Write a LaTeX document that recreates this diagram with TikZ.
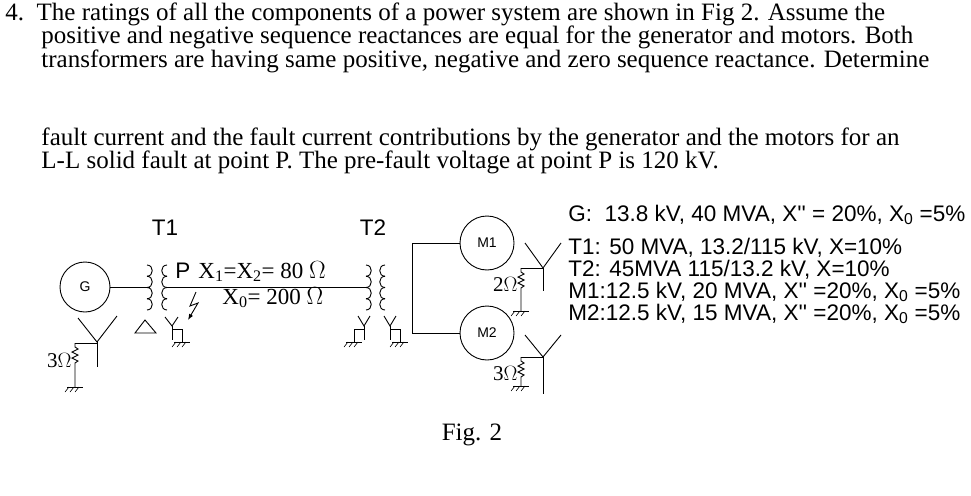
\documentclass[tikz,border=0pt]{standalone}
\usepackage{fontspec}
\usetikzlibrary{arrows.meta}
\setmainfont{Liberation Serif}
\newfontfamily\sans{Liberation Sans}
\begin{document}
\begin{tikzpicture}[x=1pt,y=-1pt,line width=0.9pt,
  txt/.style={anchor=base west,inner sep=0,font=\fontsize{25}{27}\selectfont},
  lab/.style={anchor=base west,inner sep=0,font=\sans\fontsize{22.5}{24}\selectfont},
  mach/.style={circle,draw,minimum size=#1,inner sep=0,font=\sans\fontsize{14}{14}\selectfont}]
\useasboundingbox (0,0) rectangle (971,495);
\newcommand\gnd[2]{\draw (#1-8,#2) -- (#1+8,#2);
  \foreach \k in {-6,-1,4}{\draw[line width=0.6pt] (#1+\k,#2) -- (#1+\k-4,#2+5);}}
\newcommand\coilR[3]{\foreach \i in {0,...,3}{\draw (#1,#2+\i*#3/4) .. controls (#1+7,#2+\i*#3/4) and (#1+7,#2+\i*#3/4+#3/4) .. (#1,#2+\i*#3/4+#3/4);}}
\newcommand\coilL[3]{\foreach \i in {0,...,3}{\draw (#1,#2+\i*#3/4) .. controls (#1-7,#2+\i*#3/4) and (#1-7,#2+\i*#3/4+#3/4) .. (#1,#2+\i*#3/4+#3/4);}}
\newcommand\resV[3]{\draw (#1,#2) -- (#1,#2+4) -- (#1+3,#2+6) -- (#1-3,#2+9) -- (#1+3,#2+12) -- (#1-3,#2+15) -- (#1+3,#2+18) -- (#1,#2+20) -- (#1,#3);}
% text
\node[txt] (l1) at (5,21) {4.\ \ The ratings of all the components of a power system are shown in Fig 2. Assume the};
\node[txt] (l2) at (41,44) {positive and negative sequence reactances are equal for the generator and motors. Both};
\node[txt] (l3) at (41,67) {transformers are having same positive, negative and zero sequence reactance. Determine};
\node[txt] (l4) at (41,145) {fault current and the fault current contributions by the generator and the motors for an};
\node[txt] (l5) at (41,168) {L-L solid fault at point P. The pre-fault voltage at point P is 120 kV.};
\node[lab] (r1) at (568,221) {G:\ \ 13.8 kV, 40 MVA, X'' = 20\%, X\textsubscript{0} =5\%};
\node[lab] (r2) at (568,254) {T1: 50 MVA, 13.2/115 kV, X=10\%};
\node[lab] (r3) at (568,276) {T2: 45MVA 115/13.2 kV, X=10\%};
\node[lab] (r4) at (568,298) {M1:12.5 kV, 20 MVA, X'' =20\%, X\textsubscript{0} =5\%};
\node[lab] (r5) at (568,320) {M2:12.5 kV, 15 MVA, X'' =20\%, X\textsubscript{0} =5\%};
% generator
\node[mach=50pt] (G) at (85,287) {G};
\coordinate (t1a) at (150,287);
\coordinate (t1b) at (167,287);
\coordinate (t2a) at (368,287);
\draw (G.east) -- (t1a);
\draw (t1b) -- (t2a);
\coilR{147}{265}{45}\coilL{167}{265}{45}
\coilR{366}{265}{45}\coilL{385}{265}{45}
\node[lab,anchor=base] (T1) at (165,235) {T1};
\node[lab,anchor=base] (T2) at (373,235) {T2};
\node[lab,anchor=base west] (P) at (175,278) {P};
\node[txt,anchor=base west,font=\fontsize{23}{24}\selectfont] (x1) at (198,278) {X\textsubscript{1}=X\textsubscript{2}= 80 $\Omega$};
\node[txt,anchor=base west,font=\fontsize{23}{24}\selectfont] (x0) at (222,304) {X\textsubscript{0}= 200 $\Omega$};
\draw[-{Latex[length=6pt]}] (196,292) -- (190,306) -- (198,303) -- (188,320);
% G wye
\draw (78,318) -- (97,342) -- (117,316); \draw (97,342) -- (97,367);
\draw (97,343) -- (75,343); \resV{75}{343}{387}\gnd{75}{387}
\node[txt,anchor=base east,font=\fontsize{21}{22}\selectfont] (g3) at (72,367) {3$\Omega$};
% T1 delta / wye
\draw (135,333) -- (145,320) -- (156,333) -- cycle;
\draw (165,317) -- (172,326) -- (178,317); \draw (172,326) -- (172,340);
\draw (172,329) -- (182,329) -- (182,342); \gnd{182}{342}
% T2 wyes
\draw (358,316) -- (364,326) -- (370,316); \draw (364,326) -- (364,340);
\draw (364,329) -- (354,329) -- (354,342); \gnd{354}{342}
\draw (384,316) -- (390,326) -- (396,316); \draw (390,326) -- (390,340);
\draw (390,329) -- (400,329) -- (400,342); \gnd{400}{342}
% motors
\node[mach=54pt] (M1) at (487,243) {M1};
\node[mach=54pt] (M2) at (487,333) {M2};
\draw (M1.west) -- (412,243) -- (412,333) -- (M2.west);
\draw (525,243) -- (543,268) -- (561,243); \draw (543,268) -- (543,291);
\draw (543,268) -- (521,268); \resV{521}{268}{311}\gnd{521}{311}
\node[txt,anchor=base east,font=\fontsize{21}{22}\selectfont] (m2o) at (518,291) {2$\Omega$};
\draw (525,335) -- (543,357) -- (561,335); \draw (543,357) -- (543,394);
\draw (543,357) -- (521,357); \resV{521}{357}{386}\gnd{521}{386}
\node[txt,anchor=base east,font=\fontsize{21}{22}\selectfont] (m3o) at (518,380) {3$\Omega$};
\node[txt,anchor=base] (fig) at (472,440) {Fig. 2};
\end{tikzpicture}
\end{document}
